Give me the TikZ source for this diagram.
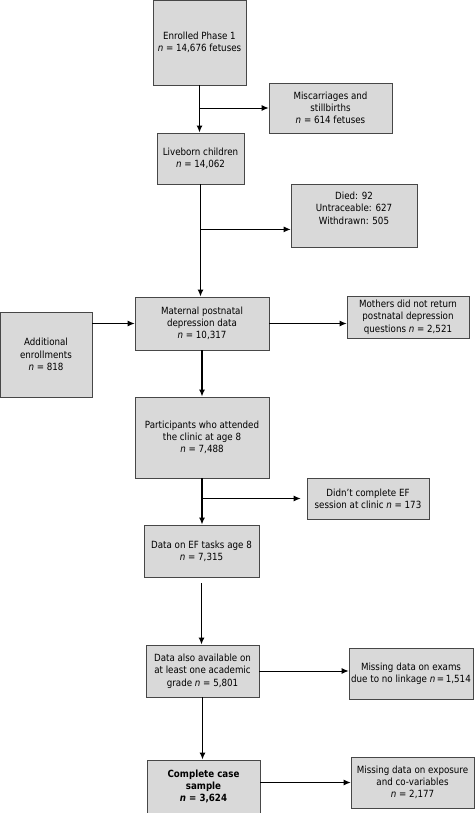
\documentclass[tikz,border=0pt]{standalone}
\usepackage{fontspec}
\setmainfont{DejaVu Sans}[FakeStretch=0.88]
\usepackage{xcolor}
\usepackage{tikz}
\usetikzlibrary{positioning, shapes.geometric}
\usetikzlibrary{calc, arrows.meta}
\definecolor{boxfill}{HTML}{D9D9D9}
\definecolor{boxline}{HTML}{474747}
\tikzstyle{stage} = [rectangle, minimum height=0.7cm, text centered, align=center, draw=boxline, fill=boxfill, line width=0.8pt, inner sep=1pt]
\tikzstyle{arrow} = [line width=1.4pt,->,>={Latex[length=7pt,width=6pt]}]
\tikzstyle{side} = [line width=0.9pt,->,>={Latex[length=7pt,width=6pt]}]
\tikzstyle{every node}=[font=\fontsize{9.9}{12.3}\selectfont]

\begin{document}
\begin{tikzpicture}[node distance=100pt]
			\useasboundingbox (0,0) rectangle (474pt,-813pt);
			\node (enrol) [stage, minimum width=93pt, minimum height=85pt] at (199.5pt,-42.5pt) {Enrolled Phase 1\\\textit{n} = 14,676 fetuses};
			\node (misc) [stage, right of=enrol, xshift=31pt, yshift=-65.5pt, minimum width=123pt, minimum height=50pt] {Miscarriages and\\stillbirths\\\textit{n} = 614 fetuses};
			\node (live) [stage, below of=enrol, xshift=1pt, yshift=-16pt, minimum width=87pt, minimum height=51pt] {Liveborn children\\\textit{n} = 14,062};
			\node (died) [stage, right of=live, xshift=53.5pt, yshift=-57pt, minimum width=126pt, minimum height=63pt, text depth=15pt] {Died: 92\\Untraceable: 627\\Withdrawn: 505};
			
			\node (mat) [stage, below of=live, xshift=1.5pt, yshift=-65pt, minimum width=134pt, minimum height=53pt] {Maternal postnatal\\depression data\\\textit{n} = 10,317};
			\node (add) [stage, left of=mat, xshift=-56pt, yshift=-31pt, minimum width=92pt, minimum height=85pt] {Additional\\enrollments\\\textit{n} = 818};
			\node (moth) [stage, right of=mat, xshift=106pt, yshift=6.5pt, minimum width=122pt, minimum height=42pt] {Mothers did not return\\postnatal depression\\questions \textit{n} = 2,521};
			
			\node (part) [stage, below of=mat, yshift=-14pt, minimum width=134pt, minimum height=81pt] {Participants who attended\\the clinic at age 8\\\textit{n} = 7,488};
			\node (didnt) [stage, right of=part, xshift=66pt, yshift=-61pt, minimum width=122pt, minimum height=41pt] {Didn’t complete EF\\session at clinic \textit{n} = 173};
			\node (ef) [stage, below of=part, xshift=-0.5pt, yshift=-13.5pt, minimum width=115pt, minimum height=52pt] {Data on EF tasks age 8\\\textit{n} = 7,315};
			
			\node (also) [stage, below of=ef, xshift=1pt, yshift=-20pt, minimum width=113pt, minimum height=52pt] {Data also available on\\at least one academic\\grade \textit{n} = 5,801};
			\node (exams) [stage, right of=also, xshift=108.5pt, yshift=-2.5pt, minimum width=124pt, minimum height=51pt] {Missing data on exams\\due to no linkage \textit{n}\,=\,1,514};
			\node (comp) [stage, below of=also, xshift=1pt, yshift=-15.5pt, minimum width=113pt, minimum height=53pt, font=\fontsize{9.9}{12.3}\selectfont\bfseries] {Complete case\\sample\\\textit{n} = 3,624};
			\node (expo) [stage, right of=comp, xshift=109pt, yshift=4pt, minimum width=123pt, minimum height=51pt] {Missing data on exposure\\and co-variables\\\textit{n} = 2,177};
			
			% connect boxes
			\coordinate (diedin) at ($(died.south west)+(0,18pt)$);
			\draw [arrow](enrol.south) -- (enrol.south |- live.north);
			\draw [side](enrol.south |- misc.west) -- (misc.west);
			\draw [arrow](live.south) -- (live.south |- mat.north);
			\draw [side](live.south |- diedin) -- (diedin);
			\draw [side](add.east |- mat.west) -- (mat.west);
			\draw [side](mat.east) -- (mat.east -| moth.west);
			\draw [arrow](mat.south) -- (part.north);
			\draw [side, shorten >=6pt](part.south |- didnt.west) -- (didnt.west);
			\draw [arrow](part.south) -- (part.south |- ef.north);
			\draw [arrow, shorten <=6pt](ef.south) -- (ef.south |- also.north);
			\draw [side](also.east) -- (also.east -| exams.west);
			\draw [arrow](also.south) -- (also.south |- comp.north);
			\draw [side](comp.east |- expo.west) -- (expo.west);
			
		\end{tikzpicture}
\end{document}
